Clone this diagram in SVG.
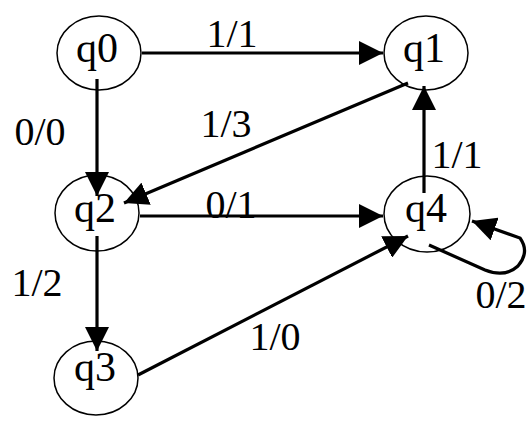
<svg xmlns="http://www.w3.org/2000/svg" width="531" height="446" viewBox="0 0 531 446">
<style>
.node ellipse{fill:none;stroke:#000;stroke-width:1.5}
.node text{font-family:"Liberation Serif","Times New Roman",serif;font-size:42px;text-anchor:middle;fill:#000}
.edge{fill:none;stroke:#000;stroke-width:3.2;marker-end:url(#ah)}
.lbl{font-family:"Liberation Serif","Times New Roman",serif;font-size:40px;text-anchor:middle;fill:#000}
</style>
<defs>
<marker id="ah" viewBox="0 0 24 24" refX="24" refY="12" markerWidth="24" markerHeight="24" markerUnits="userSpaceOnUse" orient="auto">
<path d="M0,0 L24,12 L0,24 z" fill="#000"/>
</marker>
</defs>
<rect width="531" height="446" fill="#fff"/>
<g id="q0" class="node"><ellipse cx="99" cy="53" rx="42" ry="37"/><text x="97" y="62">q0</text></g>
<g id="q1" class="node"><ellipse cx="426" cy="53" rx="42" ry="37"/><text x="424" y="62">q1</text></g>
<g id="q2" class="node"><ellipse cx="97" cy="213" rx="42" ry="38"/><text x="95" y="222">q2</text></g>
<g id="q3" class="node"><ellipse cx="96" cy="378" rx="42" ry="37"/><text x="95" y="381">q3</text></g>
<g id="q4" class="node"><ellipse cx="427" cy="214" rx="43" ry="38"/><text x="426" y="222">q4</text></g>
<g id="connectors">
<path class="edge" d="M142,53 L383,53"/>
<path class="edge" d="M97,79 L97,196"/>
<path class="edge" d="M408,83 L124,203"/>
<path class="edge" d="M140,216 L383,216"/>
<path class="edge" d="M424,193 L424,86"/>
<path class="edge" d="M97,236 L97,351"/>
<path class="edge" d="M138,375 L408,236"/>
<path class="edge" d="M429,245 L485,270 Q505,278 518,266 Q530,252 520,238 L472,221"/>
</g>
<g id="labels">
<text class="lbl" x="232" y="47">1/1</text>
<text class="lbl" x="40" y="145">0/0</text>
<text class="lbl" x="226" y="137">1/3</text>
<text class="lbl" x="231" y="218">0/1</text>
<text class="lbl" x="457" y="168">1/1</text>
<text class="lbl" x="37" y="296">1/2</text>
<text class="lbl" x="275" y="350">1/0</text>
<text class="lbl" x="501" y="308">0/2</text>
</g>
</svg>
